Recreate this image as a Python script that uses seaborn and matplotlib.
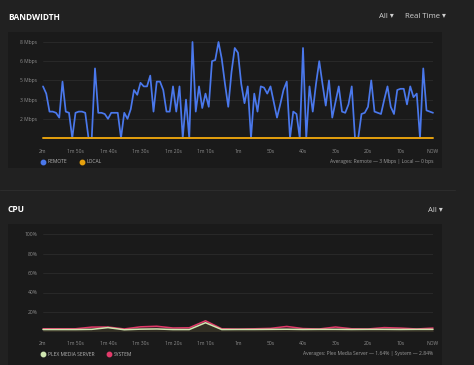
import numpy as np
import pandas as pd
import matplotlib
matplotlib.use("Agg")
import matplotlib.pyplot as plt
from matplotlib.lines import Line2D
from matplotlib.patches import Rectangle
import seaborn as sns

# ---------------- data ----------------
bw_seconds = list(range(-120, 1))  # one sample per second
remote_mbps = [
    4.3, 3.7, 2.2, 2.2, 2.1, 1.7, 4.7, 2.2, 2.1, 0.0,
    2.1, 2.2, 2.2, 2.1, 0.0, 0.0, 5.8, 2.1, 2.1, 2.0,
    1.6, 2.1, 2.1, 2.1, 0.0, 2.1, 1.6, 2.4, 4.0, 3.6,
    4.6, 4.3, 4.3, 5.2, 2.2, 4.7, 4.7, 4.0, 2.2, 2.2,
    4.3, 2.2, 4.3, 0.0, 3.2, 0.0, 8.0, 2.2, 4.3, 2.5,
    3.7, 2.6, 6.4, 6.5, 8.0, 6.6, 4.5, 2.6, 5.5, 7.5,
    7.1, 4.5, 2.9, 4.3, 0.0, 3.7, 2.2, 4.3, 4.2, 3.7,
    4.3, 3.0, 1.7, 2.8, 4.0, 4.7, 0.0, 2.2, 2.0, 0.0,
    7.5, 0.0, 4.3, 2.2, 4.5, 6.4, 4.5, 2.7, 4.8, 1.7,
    3.0, 4.3, 2.2, 2.1, 2.8, 4.3, 0.0, 0.0, 2.0, 2.1,
    2.6, 4.8, 2.2, 2.1, 2.0, 3.2, 4.3, 2.6, 2.0, 4.0,
    4.1, 4.1, 2.8, 4.3, 3.4, 3.7, 0.0, 5.8, 2.3, 2.2,
    2.1,
]
local_mbps = [0.0] * len(bw_seconds)

cpu_seconds = list(range(-120, 1, 5))
system_pct = [2.8, 2.8, 2.8, 4.5, 4.6, 2.6, 4.8, 5.4, 3.6, 3.8,
              11.0, 2.8, 2.5, 2.8, 3.2, 5.2, 3.0, 2.6, 4.6, 2.8,
              2.6, 4.0, 3.5, 2.6, 3.5]
plex_pct = [2.0, 2.0, 2.0, 2.2, 4.0, 1.8, 2.4, 2.6, 2.0, 2.0,
            9.0, 2.0, 2.1, 2.1, 2.2, 2.3, 2.1, 2.2, 2.2, 2.1,
            2.2, 2.2, 2.1, 2.2, 2.2]

x_ticks = list(range(-120, 1, 10))
x_labels = ["2m", "1m 50s", "1m 40s", "1m 30s", "1m 20s", "1m 10s", "1m",
            "50s", "40s", "30s", "20s", "10s", "NOW"]
bw_yticks = [1.6, 3.2, 4.8, 6.4, 8.0]
bw_ylabels = ["2 Mbps", "3 Mbps", "5 Mbps", "6 Mbps", "8 Mbps"]
cpu_yticks = [20, 40, 60, 80, 100]
cpu_ylabels = ["20%", "40%", "60%", "80%", "100%"]

# ---------------- style ----------------
BG = "#212121"
PANEL = "#1a1a1a"
GRID = "#2b2b2b"
TICK = "#8c8c8c"
BLUE = "#4a78ec"
ORANGE = "#e5a00d"
RED = "#e23a6a"
GREEN = "#cfe6b0"

sns.set_theme(style="dark")
plt.rcParams["font.family"] = ["Open Sans", "DejaVu Sans"]

W, H = 474, 365
fig = plt.figure(figsize=(W / 100, H / 100), dpi=100, facecolor=BG)


def fx(px):
    return px / W


def fy(py):
    return 1 - py / H


# panels
fig.patches.append(Rectangle((fx(8), fy(168)), fx(434), 136 / H,
                             transform=fig.transFigure, facecolor=PANEL,
                             edgecolor="none", zorder=-10))
fig.patches.append(Rectangle((fx(8), 0), fx(434), 141 / H,
                             transform=fig.transFigure, facecolor=PANEL,
                             edgecolor="none", zorder=-10))
fig.add_artist(Line2D([0, fx(455)], [fy(190), fy(190)], transform=fig.transFigure,
                      color="#2c2c2c", lw=0.8, zorder=-5))

# ---------------- bandwidth ----------------
ax1 = fig.add_axes([fx(43), fy(138), fx(390), (138 - 42) / H])
df_bw = pd.DataFrame({"t": bw_seconds, "remote": remote_mbps, "local": local_mbps})
sns.lineplot(data=df_bw, x="t", y="remote", ax=ax1, color=BLUE, lw=1.25,
             clip_on=False, zorder=3)
sns.lineplot(data=df_bw, x="t", y="local", ax=ax1, color=ORANGE, lw=1.4,
             clip_on=False, zorder=4)
ax1.set_xlim(-120, 0)
ax1.set_ylim(0, 8)
ax1.set_yticks(bw_yticks)
ax1.set_yticklabels(bw_ylabels)

# ---------------- cpu ----------------
ax2 = fig.add_axes([fx(43), fy(331.5), fx(390), (331.5 - 234) / H])
df_cpu = pd.DataFrame({"t": cpu_seconds, "system": system_pct, "plex": plex_pct})
ax2.fill_between(df_cpu["t"], df_cpu["system"], color=RED, alpha=0.18, lw=0, zorder=2)
ax2.fill_between(df_cpu["t"], df_cpu["plex"], color="#2a3a22", alpha=0.6, lw=0, zorder=2)
sns.lineplot(data=df_cpu, x="t", y="system", ax=ax2, color=RED, lw=1.1,
             clip_on=False, zorder=3)
sns.lineplot(data=df_cpu, x="t", y="plex", ax=ax2, color=GREEN, lw=1.1,
             clip_on=False, zorder=4)
ax2.set_xlim(-120, 0)
ax2.set_ylim(0, 100)
ax2.set_yticks(cpu_yticks)
ax2.set_yticklabels(cpu_ylabels)

for ax in (ax1, ax2):
    ax.set_zorder(2)
    ax.set_facecolor(PANEL)
    for s in ax.spines.values():
        s.set_visible(False)
    ax.set_xlabel("")
    ax.set_ylabel("")
    ax.set_xticks(x_ticks)
    ax.set_xticklabels(x_labels)
    ax.grid(axis="y", color=GRID, lw=0.6)
    ax.grid(axis="x", visible=False)
    ax.tick_params(axis="y", length=0, pad=4, labelsize=3.6, labelcolor=TICK)
    ax.tick_params(axis="x", length=2.2, width=1.0, color="#777777", direction="out",
                   pad=6, labelsize=3.6, labelcolor=TICK)

ax2.tick_params(axis="x", pad=4.5)

# ---------------- titles ----------------
fig.text(fx(8), fy(17), "BANDWIDTH", color="white", fontsize=6.0, fontweight="bold",
         va="center", ha="left")
fig.text(fx(8), fy(209), "CPU", color="white", fontsize=6.0, fontweight="bold",
         va="center", ha="left")
fig.text(fx(379), fy(17), "All \u25BE", color="#d0d0d0", fontsize=5.6, va="center",
         ha="left", family=["Open Sans", "DejaVu Sans"])
fig.text(fx(405), fy(17), "Real Time \u25BE", color="#d0d0d0", fontsize=5.6,
         va="center", ha="left", family=["Open Sans", "DejaVu Sans"])
fig.text(fx(428), fy(210), "All \u25BE", color="#d0d0d0", fontsize=5.6, va="center",
         ha="left", family=["Open Sans", "DejaVu Sans"])

# ---------------- legends ----------------
def make_legend(ax, items, ypx):
    handles = [Line2D([], [], marker="o", linestyle="none", markersize=3.2,
                      markerfacecolor=c, markeredgecolor=c, label=l) for l, c in items]
    leg = ax.legend(handles=handles, loc="center left",
                    bbox_to_anchor=(fx(41), fy(ypx)), bbox_transform=fig.transFigure,
                    ncol=len(items), frameon=False, fontsize=3.6, handletextpad=0.6,
                    columnspacing=2.4, handlelength=0.8, borderaxespad=0, borderpad=0)
    for t in leg.get_texts():
        t.set_color("#b5b5b5")
    return leg


make_legend(ax1, [("REMOTE", BLUE), ("LOCAL", ORANGE)], 162)
make_legend(ax2, [("PLEX MEDIA SERVER", GREEN), ("SYSTEM", RED)], 354)

fig.text(fx(433), fy(162), "Averages: Remote \u2014 3 Mbps | Local \u2014 0 bps",
         color="#9a9a9a", fontsize=3.6, ha="right", va="center")
fig.text(fx(433), fy(354), "Averages: Plex Media Server \u2014 1.64% | System \u2014 2.84%",
         color="#9a9a9a", fontsize=3.6, ha="right", va="center")

fig.savefig("out.png", dpi=100, facecolor=BG)
